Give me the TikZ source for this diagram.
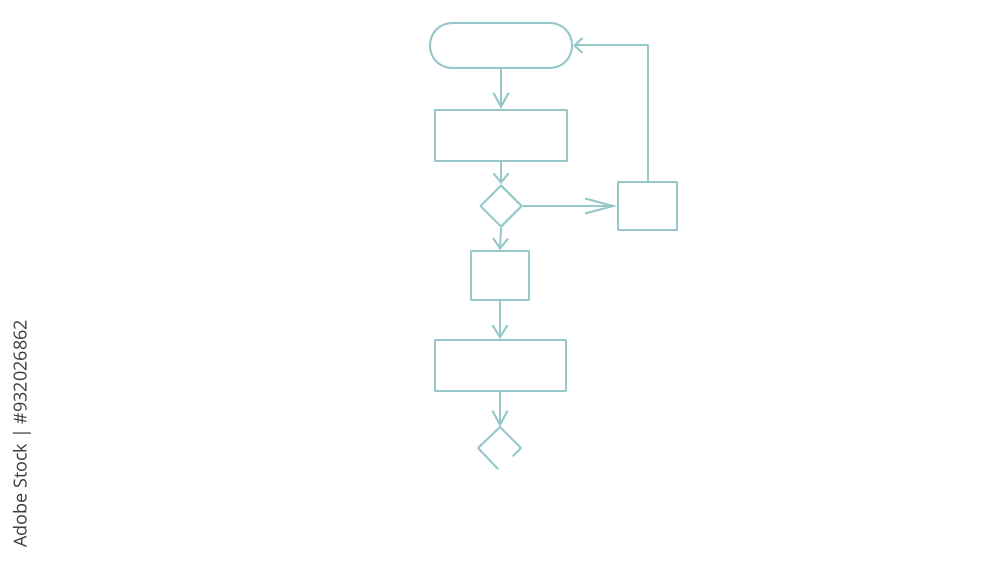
\documentclass[tikz,border=0pt]{standalone}
\usepackage{fontspec}
\newfontfamily\markfont{Open Sans}
\usetikzlibrary{arrows.meta,shapes.geometric}
\definecolor{flowteal}{RGB}{150,200,202}
\definecolor{markgray}{RGB}{60,60,60}
\tikzset{
  box/.style={draw=flowteal,line width=2pt,inner sep=0pt},
  flow/.style={draw=flowteal,line width=2pt,-{Straight Barb[length=#1,width=15pt]}},
  flow/.default=14pt
}

\begin{document}
\begin{tikzpicture}[line cap=round,line join=round,x=1pt,y=1pt]

\useasboundingbox (0,0) rectangle (1000,562);
\node [box,rounded corners=22pt,minimum width=142pt,minimum height=45pt] (start) at (501,516.5) {};
\node [box,minimum width=132pt,minimum height=51pt] (proc1) at (501,426.5) {};
\node [box,diamond,aspect=1,minimum size=42pt] (dec1) at (501,356) {};
\node [box,minimum width=59pt,minimum height=48pt] (side) at (647.5,356) {};
\node [box,minimum width=58pt,minimum height=49pt] (proc2) at (500,286.5) {};
\node [box,minimum width=131pt,minimum height=51pt] (proc3) at (500,196.5) {};
\coordinate (dec2top) at (500,135);
% unfinished decision
\draw [box] (513,106)-- (521,114)-- (dec2top)-- (478,114)-- (498,93);
\draw [flow] (start.south)-- (proc1.north);
\draw [flow=9pt] (proc1.south)-- (dec1.north);
\draw [flow=28pt] (dec1.east)-- (side.west);
\draw [flow=10pt] (dec1.south)-- (proc2.north);
\draw [flow=12pt] (proc2.south)-- (proc3.north);
\draw [flow] (proc3.south)-- (dec2top);
\draw [flow=8pt] (side.north) |- (start.east);
\node [rotate=90,text=markgray,font=\markfont\fontsize{18}{18}\selectfont] (mark) at (22,128) {Adobe Stock | \#932026862};
\end{tikzpicture}
\end{document}
